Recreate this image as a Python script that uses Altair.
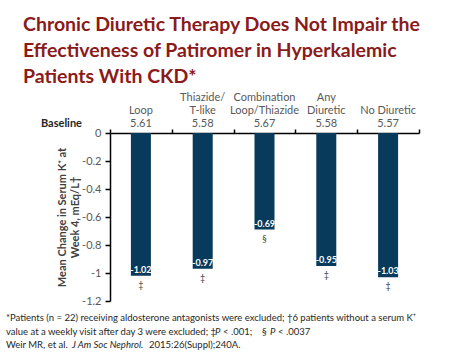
import altair as alt
import pandas as pd

categories = ["Loop", "Thiazide/T-like", "Combination Loop/Thiazide", "Any Diuretic", "No Diuretic"]
header_top = ["", "Thiazide/", "Combination", "Any", ""]
header_bottom = ["Loop", "T-like", "Loop/Thiazide", "Diuretic", "No Diuretic"]
baseline_values = ["5.61", "5.58", "5.67", "5.58", "5.57"]
mean_change = [-1.02, -0.97, -0.69, -0.95, -1.03]
bar_labels = ["-1.02", "-0.97", "-0.69", "-0.95", "-1.03"]
significance = ["‡", "‡", "§", "‡", "‡"]
y_ticks = [0, -0.2, -0.4, -0.6, -0.8, -1.0, -1.2]

title_text = "Chronic Diuretic Therapy Does Not Impair the\nEffectiveness of Patiromer in Hyperkalemic\nPatients With CKD*"
foot_segments = [
    # text, line, italic, x (relative to plot origin)
    ("*Patients (n = 22) receiving aldosterone antagonists were excluded; †6 patients without a serum K⁺", 0, False, -104),
    ("value at a weekly visit after day 3 were excluded; ‡", 1, False, -104),
    ("P", 1, True, 105),
    ("< .001;", 1, False, 113),
    ("§", 1, False, 152),
    ("P", 1, True, 160),
    ("< .0037", 1, False, 168),
    ("Weir MR, et al.", 2, False, -104),
    ("J Am Soc Nephrol.", 2, True, -38),
    ("2015:26(Suppl);240A.", 2, False, 39),
]

W, H = 309, 168
PAD_L, PAD_T = 110, 133
FONT = "Lato"

df = pd.DataFrame({
    "cat": categories,
    "top": header_top,
    "bottom": header_bottom,
    "base": baseline_values,
    "value": mean_change,
    "zero": [0] * len(categories),
    "label": bar_labels,
    "sig": significance,
})

x = alt.X("cat:N", sort=categories,
          scale=alt.Scale(paddingInner=0, paddingOuter=0),
          axis=alt.Axis(orient="top", labels=False, title=None, tickBand="extent",
                        domainColor="#000000", domainWidth=1.5, tickColor="#000000",
                        tickSize=4, tickWidth=1.5))
y = alt.Y("value:Q", scale=alt.Scale(domain=[-1.2, 0], nice=False),
          axis=alt.Axis(values=y_ticks, grid=False, labelOverlap=False, tickCount=7,
                        labelExpr="replace(format(datum.value, '.1~f'), '−', '-')",
                        labelFont=FONT, labelFontSize=11, labelColor="#595959", labelPadding=4,
                        domainColor="#000000", domainWidth=1.5, tickColor="#000000",
                        tickSize=5, tickWidth=1.5,
                        title=["Mean Change in Serum K⁺ at", "Week 4, mEq/L†"],
                        titleFont=FONT, titleFontSize=11, titleFontWeight="bold",
                        titleColor="#404040", titlePadding=1, titleLineHeight=13))

base = alt.Chart(df)

bars = base.mark_bar(width=20, color="#073a5b").encode(x=x, y=y, y2="zero:Q")

bar_text = base.mark_text(baseline="bottom", dy=-1, color="white", font=FONT,
                          fontWeight="bold", fontSize=9).encode(x=x, y=y, text="label:N")

sig_text = base.mark_text(baseline="top", dy=5, color="#404040", font=FONT, fontSize=9).encode(
    x=x, y=y, text="sig:N")

hdr_style = dict(baseline="alphabetic", color="#595959", font=FONT, fontSize=11)
hdr_top = base.mark_text(**hdr_style).encode(x=x, y=alt.value(-32), text="top:N")
hdr_bottom = base.mark_text(**hdr_style).encode(x=x, y=alt.value(-19), text="bottom:N")
hdr_base = base.mark_text(**hdr_style).encode(x=x, y=alt.value(-6), text="base:N")

baseline_lbl = alt.Chart(pd.DataFrame({"t": ["Baseline"]})).mark_text(
    align="right", baseline="alphabetic", font=FONT, fontSize=11, fontWeight="bold",
    color="#262626").encode(x=alt.value(-28), y=alt.value(-6), text="t:N")

title = alt.Chart(pd.DataFrame({"t": [title_text]})).mark_text(
    align="left", baseline="alphabetic", lineBreak="\n", lineHeight=26, font=FONT,
    fontSize=19.5, fontWeight="bold", color="#8B1A1A").encode(
    x=alt.value(23 - PAD_L), y=alt.value(31 - PAD_T), text="t:N")

foot_df = pd.DataFrame(foot_segments, columns=["t", "line", "italic", "x"])
foot_df["y"] = foot_df["line"] * 13.5 + (321 - PAD_T)
foot_df["style"] = foot_df["italic"].map({True: "italic", False: "normal"})
foot_layers = []
for sty in ["normal", "italic"]:
    foot_layers.append(
        alt.Chart(foot_df[foot_df["style"] == sty]).mark_text(
            align="left", baseline="alphabetic", font=FONT, fontSize=9.5,
            fontStyle=sty, color="#262626").encode(
            x=alt.X("x:Q", scale=None), y=alt.Y("y:Q", scale=None), text="t:N"))

chart = alt.layer(bars, bar_text, sig_text, hdr_top, hdr_bottom, hdr_base, baseline_lbl,
                  title, *foot_layers).properties(
    width=W, height=H,
    autosize=alt.AutoSizeParams(type="none"),
    padding={"left": PAD_L, "top": PAD_T, "right": 474 - PAD_L - W, "bottom": 355 - PAD_T - H},
    background="white",
).configure_view(stroke=None)

chart.save("out.html", embed_options={"renderer": "svg", "actions": False})
